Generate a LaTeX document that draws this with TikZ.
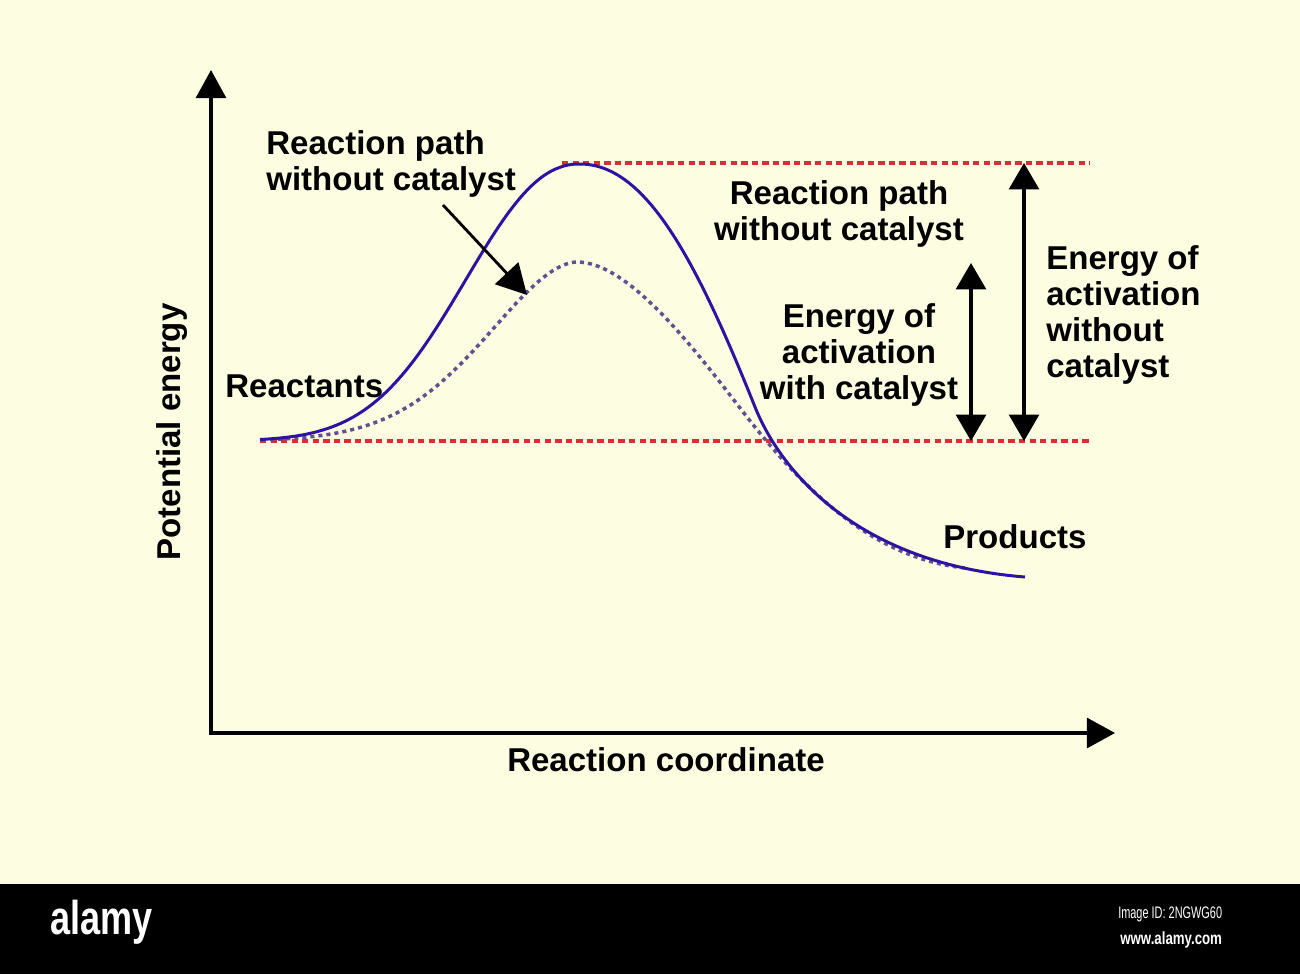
\documentclass[tikz,border=0pt]{standalone}
\usepackage{fontspec}
\setmainfont{Liberation Sans}
\usetikzlibrary{arrows.meta}
\definecolor{bgcream}{RGB}{253,253,225}
\definecolor{pathblue}{RGB}{45,20,160}
\definecolor{pathgrey}{RGB}{98,80,145}
\definecolor{levelred}{RGB}{220,45,55}
\tikzset{
  lbl/.style={font=\fontsize{18.8}{20.4}\selectfont\bfseries, inner sep=0pt, text=black},
  axisline/.style={line width=2pt, black, {Triangle[length=16pt,width=17pt]}-{Triangle[length=16pt,width=17pt]}},
  dblarrow/.style={line width=1.8pt, black, {Triangle[length=15pt,width=17pt]}-{Triangle[length=15pt,width=17pt]}},
  pointer/.style={line width=1.6pt, black, -{Triangle[length=17pt,width=18pt]}},
  levelline/.style={line width=2pt, levelred, dash pattern=on 3.6pt off 2.4pt},
  uncat/.style={line width=1.7pt, pathblue},
  withcat/.style={line width=2pt, pathgrey, dash pattern=on 2.3pt off 2.3pt},
}
\begin{document}
\begin{tikzpicture}[x=0.02cm, y=-0.02cm]
\useasboundingbox (0,0) rectangle (1300,974);
\fill[bgcream] (0,0) rectangle (1300,974);
\fill[black] (0,884) rectangle (1300,974);

% coordinates
\coordinate (ytop) at (211,70);
\coordinate (origin) at (211,733);
\coordinate (xend) at (1115,733);
\coordinate (topL) at (562,163);
\coordinate (topR) at (1090,163);
\coordinate (baseL) at (260,441);
\coordinate (baseR) at (1092,441);
\coordinate (shortTop) at (971,263);
\coordinate (shortBot) at (971,441);
\coordinate (longTop) at (1024,163);
\coordinate (longBot) at (1024,441);
\coordinate (ptrStart) at (443,205);
\coordinate (ptrEnd) at (527,295);

% levels
\draw[levelline] (topL) -- (topR);
\draw[levelline] (baseL) -- (baseR);

% path with catalyst (dotted)
\draw[withcat] plot[domain=262:577, samples=80] (\x, {441-179*exp(-((577-\x)/128)^1.8)})
  .. controls (627,262) and (690,343) .. (740,408)
  .. controls (800,486) and (870,558) .. (965,568);
% path without catalyst (solid)
\draw[uncat] plot[domain=260:580, samples=80] (\x, {441-277*exp(-((580-\x)/151)^2.2)})
  .. controls (645,164) and (695,257) .. (755,407)
  .. controls (780,469.5) and (855,563.4) .. (1025,577);

% axes
\draw[axisline] (ytop) -- (origin) -- (xend);

% arrows
\draw[dblarrow] (shortTop) -- (shortBot);
\draw[dblarrow] (longTop) -- (longBot);
\draw[pointer] (ptrStart) -- (ptrEnd);

% labels
\node[lbl, anchor=west, align=left] (pathL) at (266,164) {Reaction path\\without catalyst};
\node[lbl, align=center] (pathR) at (839,214) {Reaction path\\without catalyst};
\node[lbl, align=center] (eaCat) at (859,355) {Energy of\\activation\\with catalyst};
\node[lbl, anchor=west, align=left] (eaUncat) at (1046,315) {Energy of\\activation\\without\\catalyst};
\node[lbl, anchor=west] (react) at (225,386) {Reactants};
\node[lbl, anchor=west] (prod) at (943,537) {Products};
\node[lbl] (xlab) at (666,760) {Reaction coordinate};
\node[lbl, rotate=90] (ylab) at (172,432) {Potential energy};

% footer strip
\node[font=\fontsize{27}{30}\selectfont\bfseries, text=white, inner sep=0pt, xscale=0.76, transform shape, anchor=west] (logo) at (50,922) {alamy};
\node[font=\fontsize{9.5}{11}\selectfont, text=white, inner sep=0pt, xscale=0.655, transform shape, anchor=west] (imgid) at (1118,914) {Image ID: 2NGWG60};
\node[font=\fontsize{10}{12}\selectfont\bfseries, text=white, inner sep=0pt, xscale=0.755, transform shape, anchor=west] (www) at (1120,940) {www.alamy.com};
\end{tikzpicture}
\end{document}
